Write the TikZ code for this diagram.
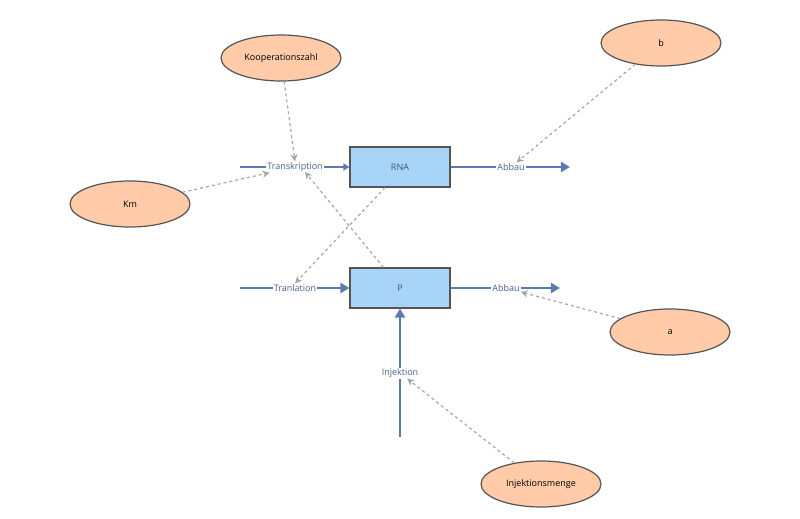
\documentclass[tikz,border=0pt]{standalone}
\usepackage{fontspec}
\setmainfont{Open Sans}
\usetikzlibrary{shapes.geometric,arrows.meta}
\definecolor{flow}{HTML}{5B7BB0}
\definecolor{ell}{HTML}{FFCBA8}
\definecolor{box}{HTML}{A8D4F8}
\definecolor{edge}{HTML}{555555}
\begin{document}
\begin{tikzpicture}[x=1pt,y=-1pt,
 aux/.style={ellipse,draw=edge,line width=1.2pt,fill=ell,minimum width=120pt,minimum height=46pt,inner sep=0pt,font=\small},
 stock/.style={rectangle,draw=edge,line width=1.2pt,fill=box,minimum width=100pt,minimum height=40pt,font=\small,text=flow!70!black},
 fl/.style={draw=flow,line width=2.5pt,-{Triangle[length=9pt,width=10pt]}},
 flab/.style={fill=white,inner sep=1pt,font=\small,text=flow!80!black},
 dep/.style={draw=gray!70,dashed,line width=1.2pt,-{Stealth[length=7pt,width=7pt]}}]
\useasboundingbox (0,0) rectangle (800,519);
\node[aux] (koop) at (281,58) {Kooperationszahl};
\node[aux] (b) at (661,43) {b};
\node[aux] (km) at (130,204) {Km};
\node[aux] (a) at (670,332) {a};
\node[aux] (inj) at (541,484) {Injektionsmenge};
\node[stock] (rna) at (400,167) {RNA};
\node[stock] (p) at (400,288) {P};
\coordinate (ts) at (240,167);
\coordinate (tls) at (240,288);
\coordinate (rsink) at (570,167);
\coordinate (psink) at (560,288);
\coordinate (isrc) at (400,437);
\draw[fl,line width=2pt,-{Triangle[length=6pt,width=7pt]}] (ts) -- (rna);
\node[flab] (tr) at (295,167) {Transkription};
\draw[fl] (rna) -- (rsink);
\node[flab] (ab1) at (511,167) {Abbau};
\draw[fl] (tls) -- (p);
\node[flab] (tl) at (295,288) {Tranlation};
\draw[fl] (p) -- (psink);
\node[flab] (ab2) at (506,288) {Abbau};
\draw[fl] (isrc) -- (p);
\node[flab] (ij) at (400,373) {Injektion};
\draw[dep] (koop) -- (tr.north);
\draw[dep] (km) -- (tr);
\draw[dep] (p.north west) ++(34,0) -- (305,172);
\draw[dep] (b) -- (ab1);
\draw[dep] (a) -- (ab2);
\draw[dep] (inj) -- (ij);
\draw[dep] ([xshift=-15pt]rna.south) -- (tl.north);
\end{tikzpicture}
\end{document}
